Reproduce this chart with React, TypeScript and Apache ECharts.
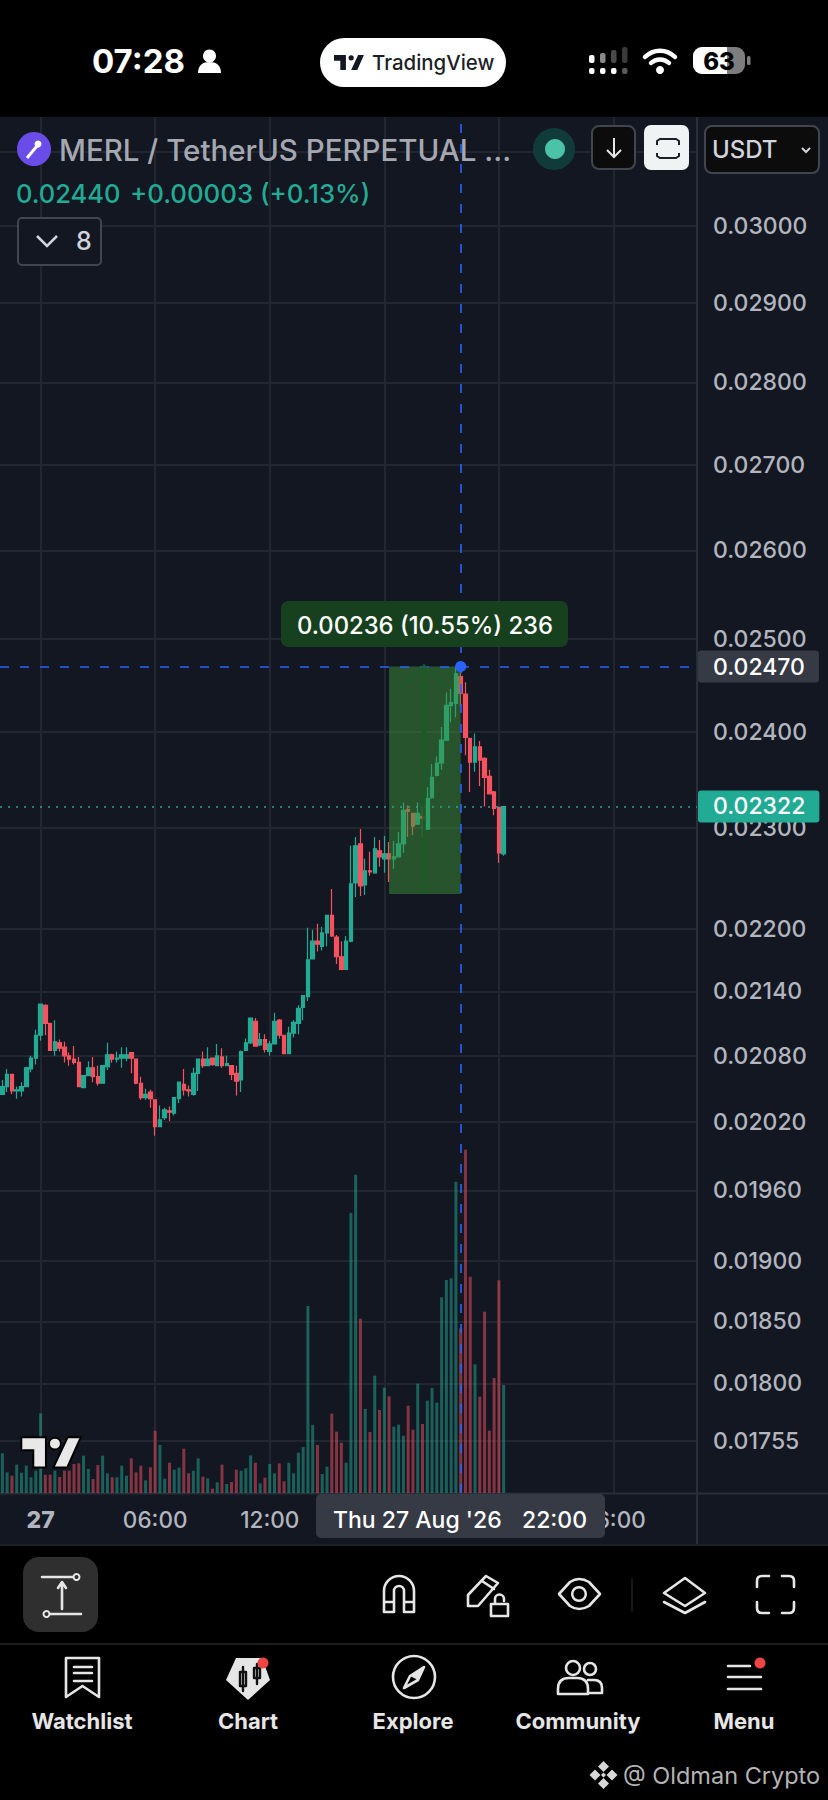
import React, { useEffect, useRef } from "react";
import * as echarts from "echarts";

// ---------- data ----------
const firstBarOffset = 8; // bars before the "27" tick
const slots = 146;
const opens = [0.02045,0.02052,0.02063,0.02048,0.02048,0.02052,0.02068,0.02078,0.02099,0.02127,0.0211,0.02085,0.02092,0.02088,0.0208,0.02077,0.02074,0.02051,0.02062,0.02069,0.02061,0.02055,0.0207,0.02081,0.02077,0.02078,0.02078,0.02083,0.02077,0.02055,0.02042,0.02047,0.0204,0.02016,0.02024,0.0203,0.02028,0.02041,0.02054,0.02049,0.02045,0.02064,0.02077,0.02071,0.02078,0.02071,0.02079,0.02071,0.02071,0.02064,0.02058,0.02085,0.02092,0.02112,0.0209,0.02095,0.02084,0.02091,0.02113,0.02099,0.02082,0.02101,0.0211,0.02125,0.02135,0.02171,0.02188,0.02183,0.02196,0.02213,0.02192,0.02173,0.02161,0.02188,0.02245,0.02284,0.02243,0.02257,0.02255,0.02277,0.02269,0.02274,0.02269,0.02271,0.02284,0.02319,0.02315,0.02304,0.02312,0.02299,0.02331,0.02354,0.02367,0.02391,0.02428,0.0243,0.02459,0.0244,0.02393,0.02368,0.02384,0.02372,0.02353,0.02337,0.02321,0.02274];
const closes = [0.02052,0.02063,0.02048,0.02049,0.02052,0.02069,0.02078,0.02099,0.02128,0.0211,0.02085,0.02093,0.02087,0.0208,0.02077,0.02074,0.02052,0.02062,0.02069,0.02061,0.02055,0.02071,0.02081,0.02077,0.02078,0.02081,0.02081,0.02078,0.02055,0.02042,0.02045,0.02041,0.02016,0.02022,0.02031,0.02029,0.02042,0.02056,0.02049,0.02048,0.02064,0.02077,0.02071,0.02077,0.02072,0.0208,0.02071,0.02073,0.02063,0.02057,0.02084,0.02092,0.02115,0.02089,0.02095,0.02086,0.02091,0.02112,0.02099,0.02082,0.02101,0.02111,0.02124,0.02136,0.0217,0.02188,0.02185,0.02196,0.02213,0.02193,0.02173,0.02161,0.02188,0.02244,0.02282,0.02242,0.02257,0.02256,0.02279,0.02271,0.02274,0.02269,0.02271,0.02284,0.02318,0.02317,0.02302,0.02315,0.0231,0.0233,0.02352,0.02367,0.02391,0.02428,0.02431,0.02462,0.02441,0.02394,0.02368,0.02384,0.0237,0.02352,0.02335,0.0232,0.02275,0.02322];
const lows = [0.02045,0.02047,0.02045,0.02041,0.02043,0.02052,0.02065,0.02072,0.02094,0.02099,0.02085,0.0208,0.02084,0.02074,0.02071,0.02072,0.02052,0.02051,0.02062,0.02056,0.02053,0.02055,0.02067,0.02074,0.02074,0.02069,0.02075,0.02064,0.02054,0.0204,0.0204,0.02033,0.02008,0.02016,0.02022,0.02021,0.02026,0.02037,0.02044,0.02043,0.02044,0.02048,0.02069,0.02071,0.02071,0.02071,0.02069,0.02071,0.02058,0.02044,0.02047,0.02085,0.02091,0.02089,0.02089,0.02083,0.0208,0.02091,0.02096,0.02082,0.02082,0.02097,0.021,0.02113,0.02131,0.02171,0.02178,0.02179,0.02183,0.02192,0.02166,0.0216,0.02161,0.02187,0.02231,0.02232,0.02233,0.02252,0.02254,0.02261,0.02255,0.02246,0.02259,0.02271,0.02275,0.02291,0.02293,0.02304,0.02291,0.02298,0.0233,0.02353,0.0236,0.0239,0.0241,0.02415,0.02427,0.02375,0.02337,0.02358,0.02343,0.02322,0.02335,0.02313,0.02265,0.02272];
const highs = [0.02058,0.02068,0.02063,0.02052,0.02056,0.0207,0.0208,0.02104,0.02128,0.02128,0.0211,0.02113,0.02095,0.02093,0.02083,0.02089,0.02079,0.02062,0.02075,0.02079,0.02071,0.02071,0.02092,0.02082,0.02084,0.02088,0.02088,0.02083,0.02077,0.02061,0.0205,0.02049,0.0204,0.02035,0.02033,0.02034,0.02042,0.02056,0.02068,0.02053,0.02069,0.02077,0.02084,0.02088,0.02078,0.02091,0.02087,0.0208,0.02071,0.02071,0.02085,0.02096,0.02115,0.02115,0.02101,0.021,0.02094,0.0212,0.02114,0.02099,0.02107,0.02113,0.02127,0.02136,0.02201,0.02199,0.02205,0.02202,0.02213,0.02239,0.02194,0.02188,0.02193,0.02282,0.02291,0.02299,0.02269,0.02276,0.02291,0.02288,0.02292,0.02286,0.02287,0.02296,0.02326,0.02323,0.02315,0.02326,0.02322,0.02342,0.02366,0.02374,0.02405,0.02442,0.02446,0.0247,0.0247,0.02453,0.02393,0.02398,0.0239,0.02373,0.0236,0.02338,0.02321,0.02322];
const volumes = [119,62,52,85,61,82,47,67,239,55,55,67,48,67,67,87,89,112,72,42,84,112,59,47,47,82,52,104,62,82,38,77,187,144,43,91,70,76,133,59,67,104,49,44,13,32,85,27,33,70,67,74,113,91,29,46,87,59,89,35,91,59,121,138,561,204,144,57,79,238,184,151,91,840,955,523,252,183,352,249,316,290,199,205,172,262,190,328,207,277,315,271,587,639,644,934,494,1030,649,386,289,544,187,345,638,324];
const gridPrices = [0.031,0.03,0.029,0.028,0.027,0.026,0.025,0.024,0.023,0.022,0.0214,0.0208,0.0202,0.0196,0.019,0.0185,0.018,0.01755];
const priceLabels = [0.03,0.029,0.028,0.027,0.026,0.025,0.024,0.023,0.022,0.0214,0.0208,0.0202,0.0196,0.019,0.0185,0.018,0.01755];
const lastPrice = 0.02322;
const crossPrice = 0.0247;
const measureBase = 0.02234;
const measureStartBar = 73;
const crossBar = 88;
const dayTicks: Record<number, string> = { 0: "27", 24: "06:00", 48: "12:00", 120: "06:00" };

// ---------- colours ----------
const UP = "#22ab94", DOWN = "#f7525f", PANEL = "#131722", GRIDC = "#22262f", AXIS = "#b2b5be", BLUE = "#2962ff";
const FONT = "Inter";

const cat = (k: number) => `t${k - firstBarOffset}`;
const categories = Array.from({ length: slots }, (_, k) => cat(k));
const isTick = (k: number) => (k - firstBarOffset) % 24 === 0;

// ---------- icon shapes ----------
const shapes: Record<string, string> = {
  tvlogo: "M0 0H68V85H36V33H0ZM83 16a15 15 0 1 0 30 0a15 15 0 1 0 -30 0ZM138 0H171L133 85H98Z",
  person: "M198 73C198 65 203 62 209.5 62C216 62 221 65 221 73Z",
  wifi: "M645 57A21 21 0 0 1 675 57M651 63A13 13 0 0 1 669 63",
  magnet: "M384 1612V1591A15 15 0 0 1 414 1591V1612H404V1591A5 5 0 0 0 394 1591V1612ZM384 1602H394M404 1602H414",
  pencil: "M468 1606V1595L486 1576L498 1583L478 1606ZM482 1581L494 1589",
  lock: "M491 1604H508V1616H491ZM495 1604V1599A4.5 4.5 0 0 1 504 1599V1601",
  eye: "M559 1594L570 1582Q579 1576 589 1582L600 1594L589 1606Q579 1612 570 1606Z",
  layers: "M685 1578L705 1593L685 1606L664 1593ZM664 1602L685 1613L705 1602",
  full: "M757 1587V1581Q757 1576 762 1576H769M782 1576H789Q794 1576 794 1581V1587M794 1602V1608Q794 1613 789 1613H782M769 1613H762Q757 1613 757 1608V1602",
  measure: "M42 1577H73M50 1614H81M62 1609V1583M58 1588L62 1582L66 1588",
  bookmark: "M66 1658H99V1697L82.5 1686L66 1697ZM74 1667H92M74 1673H92M74 1681H92",
  shield: "M236 1658H262L270 1680L248 1700L226 1680Z",
  candles: "M240 1672H246V1686H240ZM243 1667V1691M254 1668H260V1678H254ZM257 1664V1684",
  compass: "M393 1677A21 21 0 1 1 435 1677A21 21 0 1 1 393 1677ZM424 1667L410 1676L404 1688L418 1680Z",
  needle: "M424 1667L410 1676L418 1680Z",
  users: "M566 1668A7 7 0 1 1 580 1668A7 7 0 1 1 566 1668ZM584 1669A6 6 0 1 1 596 1669A6 6 0 1 1 584 1669ZM558 1694V1689Q558 1678 569 1678H577Q588 1678 588 1689V1694ZM588 1680H594Q602 1680 602 1688V1693H589",
  menu: "M728 1666H750M728 1677H761M728 1689H761",
  binance: "M603.5 1761L609 1766.5L603.5 1772L598 1766.5ZM603.5 1778L609 1783.5L603.5 1789L598 1783.5ZM595 1769.5L600.5 1775L595 1780.5L589.5 1775ZM612 1769.5L617.5 1775L612 1780.5L606.5 1775ZM603.5 1772.5L606 1775L603.5 1777.5L601 1775Z",
};
Object.keys(shapes).forEach((n) => echarts.graphic.registerShape(n, echarts.graphic.extendPath(shapes[n], {}) as any));

// ---------- graphic helpers ----------
const Z = 50;
const rect = (x: number, y: number, width: number, height: number, fill: string, r = 0, stroke?: string, z = Z) => ({
  type: "rect", silent: true, z, shape: { x, y, width, height, r }, style: { fill, stroke, lineWidth: stroke ? 2 : 0 },
});
const text = (x: number, y: number, t: string, size: number, fill: string, weight: any = 500, align = "left") => ({
  type: "text", silent: true, z: Z + 1, x, y,
  style: { text: t, fill, font: `${weight} ${size}px ${FONT}`, align, verticalAlign: "middle" },
});
const circle = (cx: number, cy: number, r: number, fill: string) => ({
  type: "circle", silent: true, z: Z, shape: { cx, cy, r }, style: { fill },
});
const stroke = (name: string, color = "#e6e6e6", lineWidth = 2.6) => ({
  type: name, silent: true, z: Z, style: { fill: "none", stroke: color, lineWidth, lineJoin: "round", lineCap: "round" },
});
const fill = (name: string, color: string) => ({ type: name, silent: true, z: Z, style: { fill: color } });
const line = (x1: number, y1: number, x2: number, y2: number, color: string, lineWidth: number, z = Z) => ({
  type: "line", silent: true, z, shape: { x1, y1, x2, y2 }, style: { stroke: color, lineWidth },
});

const graphics = [
  // panels
  rect(0, 117, 828, 1429, PANEL, 0, undefined, -1),
  line(697, 117, 697, 1546, "#2a2e39", 2, 1),
  line(0, 1493.5, 828, 1493.5, "#2a2e39", 2, 1),
  line(0, 1545, 828, 1545, "#1e2027", 2, 1),
  line(0, 1644, 828, 1644, "#1c1c1e", 2),
  // status bar
  text(92, 61, "07:28", 33, "#fff", 700),
  circle(209.5, 56, 6.5, "#fff"),
  fill("person", "#fff"),
  rect(320, 38, 186, 49, "#fff", 24.5),
  { ...fill("tvlogo", "#131722"), x: 334, y: 55, scaleX: 0.175, scaleY: 0.175 },
  text(372, 62, "TradingView", 20.4, "#1c1f27", 500),
  rect(589, 55, 5.5, 8, "#fff", 2), rect(600, 53, 5.5, 10, "#8a8a8a", 2), rect(611, 50, 5.5, 13, "#4a4a4a", 2), rect(622, 47, 5.5, 16, "#3a3a3a", 2),
  rect(589, 68, 5.5, 6, "#fff", 2), rect(600, 68, 5.5, 6, "#fff", 2), rect(611, 68, 5.5, 6, "#fff", 2), rect(622, 68, 5.5, 6, "#5a5a5a", 2),
  stroke("wifi", "#fff", 4.5),
  circle(660, 70, 4, "#fff"),
  rect(693, 47, 52, 27, "#7d7d7d", 9),
  { type: "rect", silent: true, z: Z, shape: { x: 693, y: 47, width: 34, height: 27, r: [9, 0, 0, 9] }, style: { fill: "#fff" } },
  rect(747, 56, 3.5, 9, "#7d7d7d", 1.5),
  text(719, 61, "63", 24, "#000", 800, "center"),
  // header
  circle(34, 149, 17, "#6a4de8"),
  line(27, 158, 37, 146, "#fff", 3),
  circle(38, 144, 3.5, "#fff"),
  text(59, 150, "MERL / TetherUS PERPETUAL ...", 29.5, "#a5a8b1", 500),
  text(16, 193, "0.02440", 25.5, UP, 500),
  text(130, 193, "+0.00003 (+0.13%)", 25.8, UP, 500),
  rect(18, 218, 83, 47, PANEL, 4, "#42454d"),
  { type: "polyline", silent: true, z: Z, shape: { points: [[37, 236], [47, 246], [57, 236]] }, style: { fill: "none", stroke: "#d1d4dc", lineWidth: 2.5 } },
  text(76, 241, "8", 25, "#d1d4dc", 500),
  circle(554, 149, 21, "#113a3b"),
  { type: "ellipse", silent: true, z: Z, shape: { cx: 555, cy: 149, rx: 10, ry: 10 }, style: { fill: "#4cc3a8" } },
  rect(592, 126, 43, 43, "#0c0c0c", 7, "#42454d"),
  line(614, 138, 614, 157, "#e6e6e6", 2),
  { type: "polyline", silent: true, z: Z, shape: { points: [[607, 150], [614, 157], [621, 150]] }, style: { fill: "none", stroke: "#e6e6e6", lineWidth: 2 } },
  rect(644, 125, 45, 45, "#f0f3f3", 7),
  { type: "polyline", silent: true, z: Z + 1, shape: { points: [[657, 145], [657, 141], [660, 139], [676, 139], [679, 141], [679, 145]] }, style: { fill: "none", stroke: "#1c1f27", lineWidth: 2 } },
  { type: "polyline", silent: true, z: Z + 1, shape: { points: [[657, 153], [657, 156], [660, 158], [676, 158], [679, 156], [679, 153]] }, style: { fill: "none", stroke: "#1c1f27", lineWidth: 2 } },
  rect(705, 126, 114, 47, "#0c0c0c", 7, "#42454d"),
  text(712, 149, "USDT", 24, "#d1d4dc", 500),
  { type: "polyline", silent: true, z: Z + 1, shape: { points: [[802, 148], [806, 152], [810, 148]] }, style: { fill: "none", stroke: "#d1d4dc", lineWidth: 2 } },
  // measure tool
  rect(281, 601, 287, 46, "#17401f", 7),
  text(425, 625, "0.00236 (10.55%) 236", 23.8, "#fff", 500, "center"),
  line(424, 667, 424, 894, "rgba(28,90,40,0.8)", 4, Z),
  { type: "polyline", silent: true, z: Z, shape: { points: [[403, 687], [424, 665], [446, 687]] }, style: { fill: "none", stroke: "rgba(28,90,40,0.8)", lineWidth: 2 } },
  // watermark
  { ...fill("tvlogo", "#e8e8e8"), x: 22.3, y: 1438.3, scaleX: 1 / 3, scaleY: 1 / 3, style: { fill: "#e8e8e8", stroke: "#000", lineWidth: 12, strokeFirst: true } },
  // crosshair time tag
  rect(316, 1494, 289, 44, "#363a45", 5),
  text(333, 1520, "Thu 27 Aug '26", 23, "#fff", 500),
  text(522, 1520, "22:00", 23, "#fff", 500),
  // toolbar
  rect(23, 1557, 75, 75, "#2f2f2f", 16),
  stroke("measure"),
  { type: "ring", silent: true, z: Z, shape: { cx: 76.5, cy: 1577, r: 4, r0: 2 }, style: { fill: "#e6e6e6" } },
  { type: "ring", silent: true, z: Z, shape: { cx: 46.5, cy: 1614, r: 4, r0: 2 }, style: { fill: "#e6e6e6" } },
  stroke("magnet"), stroke("pencil"), stroke("lock"), stroke("eye"),
  { type: "ring", silent: true, z: Z, shape: { cx: 579, cy: 1594, r: 8, r0: 5.5 }, style: { fill: "#e6e6e6" } },
  line(632, 1578, 632, 1612, "#1f1f1f", 1.5),
  stroke("layers"), stroke("full"),
  // tabs
  stroke("bookmark"),
  fill("shield", "#e6e6e6"),
  stroke("candles", "#111", 2.4),
  circle(263, 1663, 5.5, "#ef4444"),
  stroke("compass"),
  fill("needle", "#e6e6e6"),
  stroke("users"),
  stroke("menu"),
  circle(760, 1663, 5.5, "#ef4444"),
  text(82, 1721, "Watchlist", 22, "#e6e6e6", 700, "center"),
  text(248, 1721, "Chart", 22, "#e6e6e6", 700, "center"),
  text(413, 1721, "Explore", 22, "#e6e6e6", 700, "center"),
  text(578, 1721, "Community", 22, "#e6e6e6", 700, "center"),
  text(744, 1721, "Menu", 22, "#e6e6e6", 700, "center"),
  fill("binance", "#d8d8d8"),
  text(623, 1775, "@ Oldman Crypto", 23.5, "#b4b4b4", 400),
];

const tag = (bg: string) => ({
  show: true, position: "end", distance: 1, fontFamily: FONT, fontSize: 23, fontWeight: 500, color: "#fff",
  backgroundColor: bg, borderRadius: 3, padding: [5, 14, 4, 15], formatter: (p: any) => Number(p.value).toFixed(5),
});

function buildOption(): any {
  return {
    animation: false,
    backgroundColor: "#000",
    textStyle: { fontFamily: FONT },
    graphic: { elements: graphics },
    grid: { left: -0.6, top: 117, width: 697.6, height: 1376, containLabel: false },
    xAxis: {
      type: "category",
      data: categories,
      axisLine: { show: false },
      axisTick: { show: false, alignWithLabel: true, interval: (k: number) => isTick(k) },
      splitLine: { show: true, alignWithLabel: true, interval: (k: number) => isTick(k), lineStyle: { color: GRIDC, width: 2 } },
      axisLabel: {
        interval: (k: number) => dayTicks[k - firstBarOffset] !== undefined,
        margin: 15,
        color: AXIS,
        fontFamily: FONT,
        fontSize: 22.5,
        fontWeight: 500,
        formatter: (_: string, k: number) => {
          const t = dayTicks[k - firstBarOffset] ?? "";
          return t.length === 2 ? `{d|${t}}` : t;
        },
        rich: { d: { fontFamily: FONT, fontSize: 23, fontWeight: 800, color: AXIS } },
      },
    },
    yAxis: [
      {
        type: "log",
        logBase: 10,
        position: "right",
        min: 0.01715,
        max: 0.03148,
        axisLine: { show: false },
        axisTick: { show: false, customValues: gridPrices },
        splitLine: { show: true, lineStyle: { color: GRIDC, width: 2 } },
        axisLabel: {
          customValues: priceLabels,
          margin: 16,
          color: AXIS,
          fontFamily: FONT,
          fontSize: 23,
          fontWeight: 500,
          formatter: (v: number) => Number(v).toFixed(5),
        },
      },
      { type: "value", min: 0, max: 4128, show: false, splitLine: { show: false } },
    ],
    series: [
      {
        type: "bar",
        name: "Volume",
        yAxisIndex: 1,
        barWidth: 3,
        data: volumes.map((v, i) => ({
          value: v,
          itemStyle: { color: closes[i] >= opens[i] ? "rgba(34,171,148,0.5)" : "rgba(247,82,95,0.5)" },
        })),
      },
      {
        type: "candlestick",
        name: "MERLUSDT",
        barWidth: 4,
        itemStyle: { color: UP, color0: DOWN, borderColor: UP, borderColor0: DOWN, borderWidth: 1.2 },
        data: opens.map((o, i) => [o, closes[i], lows[i], highs[i]]),
        markArea: {
          z: 3,
          silent: true,
          itemStyle: { color: "rgba(60,145,55,0.5)" },
          data: [[{ coord: [cat(measureStartBar + firstBarOffset), crossPrice] }, { coord: [cat(crossBar + firstBarOffset), measureBase] }]],
        },
        markLine: {
          silent: true,
          symbol: "none",
          precision: 5,
          data: [
            { yAxis: crossPrice, lineStyle: { color: BLUE, type: [9, 11], width: 1.6 }, label: tag("#363a45") },
            { yAxis: lastPrice, lineStyle: { color: UP, type: [2, 6], width: 1.6 }, label: tag(UP) },
            { xAxis: cat(crossBar + firstBarOffset), lineStyle: { color: BLUE, type: [9, 11], width: 1.6 }, label: { show: false } },
          ],
        },
        markPoint: {
          silent: true,
          symbol: "circle",
          symbolSize: 11,
          itemStyle: { color: BLUE },
          label: { show: false },
          data: [{ coord: [cat(crossBar + firstBarOffset), crossPrice] }],
        },
      },
    ],
  };
}

export default function App() {
  const ref = useRef<HTMLDivElement>(null);
  useEffect(() => {
    document.body.style.margin = "0";
    document.body.style.background = "#000";
    const chart = echarts.init(ref.current!, undefined, { renderer: "svg" });
    chart.setOption(buildOption());
    return () => chart.dispose();
  }, []);
  return <div ref={ref} style={{ width: 828, height: 1800 }} />;
}
